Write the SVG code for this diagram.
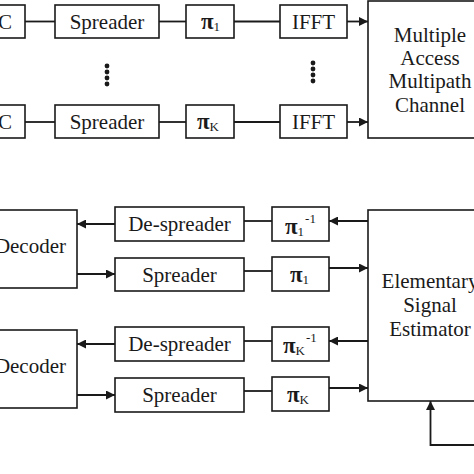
<svg xmlns="http://www.w3.org/2000/svg" width="474" height="474" viewBox="0 0 474 474">
<style>
.b{fill:#fff;stroke:#1a1a1a;stroke-width:1.6}
.l{fill:none;stroke:#1a1a1a;stroke-width:1.8}
.t{font-family:"Liberation Serif","Times New Roman",serif;font-size:21px;fill:#1a1a1a;text-anchor:middle}
.p{font-family:"Liberation Serif","Times New Roman",serif;font-size:23px;font-weight:bold;fill:#1a1a1a}
.s{font-family:"Liberation Serif","Times New Roman",serif;font-size:13px;font-weight:normal;fill:#1a1a1a}
</style>
<defs>
<marker id="a" viewBox="0 0 10 10" refX="10" refY="5" markerWidth="6" markerHeight="5" markerUnits="strokeWidth" orient="auto">
<path d="M0,0L10,5L0,10z" fill="#1a1a1a"/>
</marker>
</defs>
<rect width="474" height="474" fill="#fff"/>
<g id="connectors">
<line class="l" x1="25" y1="21.5" x2="55" y2="21.5"/>
<line class="l" x1="159" y1="21.5" x2="186" y2="21.5"/>
<line class="l" x1="234" y1="21.5" x2="280" y2="21.5"/>
<line class="l" x1="347" y1="21.5" x2="368" y2="21.5" marker-end="url(#a)"/>
<line class="l" x1="25" y1="122" x2="55" y2="122"/>
<line class="l" x1="159" y1="122" x2="186" y2="122"/>
<line class="l" x1="234" y1="122" x2="280" y2="122"/>
<line class="l" x1="347" y1="122" x2="368" y2="122" marker-end="url(#a)"/>
<line class="l" x1="115" y1="224" x2="77" y2="224" marker-end="url(#a)"/>
<line class="l" x1="244" y1="221" x2="272" y2="221"/>
<line class="l" x1="368" y1="221" x2="329" y2="221" marker-end="url(#a)"/>
<line class="l" x1="77" y1="274" x2="115" y2="274" marker-end="url(#a)"/>
<line class="l" x1="244" y1="271" x2="272" y2="271"/>
<line class="l" x1="329" y1="268" x2="368" y2="268" marker-end="url(#a)"/>
<line class="l" x1="115" y1="344" x2="77" y2="344" marker-end="url(#a)"/>
<line class="l" x1="244" y1="341" x2="272" y2="341"/>
<line class="l" x1="368" y1="341" x2="329" y2="341" marker-end="url(#a)"/>
<line class="l" x1="77" y1="395" x2="115" y2="395" marker-end="url(#a)"/>
<line class="l" x1="244" y1="391" x2="272" y2="391"/>
<line class="l" x1="329" y1="388" x2="368" y2="388" marker-end="url(#a)"/>
<polyline class="l" points="476,445 430.5,445 430.5,401" marker-end="url(#a)"/>
</g>
<g id="dots" fill="#1a1a1a">
<circle cx="107" cy="66" r="2.4"/><circle cx="107" cy="72" r="2.4"/><circle cx="107" cy="78" r="2.4"/><circle cx="107" cy="84" r="2.4"/>
<circle cx="313" cy="63" r="2.4"/><circle cx="313" cy="69" r="2.4"/><circle cx="313" cy="75" r="2.4"/><circle cx="313" cy="81" r="2.4"/>
</g>
<g id="enc1"><rect class="b" x="-4" y="5" width="29" height="33"/><text class="t" x="12" y="29" style="text-anchor:end">C</text></g>
<g id="spr1"><rect class="b" x="55" y="5" width="104" height="33"/><text class="t" x="107" y="29">Spreader</text></g>
<g id="pi1"><rect class="b" x="186" y="5" width="48" height="33"/><text class="p" x="201" y="29">π<tspan class="s" dy="2">1</tspan></text></g>
<g id="ifft1"><rect class="b" x="280" y="5" width="67" height="33"/><text class="t" x="313.5" y="29">IFFT</text></g>
<g id="enc2"><rect class="b" x="-4" y="105" width="29" height="33"/><text class="t" x="12" y="129" style="text-anchor:end">C</text></g>
<g id="spr2"><rect class="b" x="55" y="105" width="104" height="33"/><text class="t" x="107" y="129">Spreader</text></g>
<g id="piK"><rect class="b" x="186" y="105" width="48" height="33"/><text class="p" x="197" y="129">π<tspan class="s" dy="2">K</tspan></text></g>
<g id="ifft2"><rect class="b" x="280" y="105" width="67" height="33"/><text class="t" x="313.5" y="129">IFFT</text></g>
<g id="channel"><rect class="b" x="368" y="1" width="110" height="137"/>
<text class="t" x="430" y="42">Multiple</text><text class="t" x="430" y="65">Access</text><text class="t" x="430" y="88">Multipath</text><text class="t" x="430" y="112">Channel</text></g>
<g id="dec1"><rect class="b" x="-4" y="210" width="81" height="78"/><text class="t" x="66" y="253" style="text-anchor:end">Decoder</text></g>
<g id="desp1"><rect class="b" x="115" y="207" width="129" height="34"/><text class="t" x="179.5" y="231">De-spreader</text></g>
<g id="pi1inv"><rect class="b" x="272" y="207" width="57" height="34"/><text class="p" x="285" y="234">π<tspan class="s" dy="2">1</tspan><tspan class="s" dy="-13" dx="1">-1</tspan></text></g>
<g id="spr3"><rect class="b" x="115" y="258" width="129" height="33"/><text class="t" x="179.5" y="282">Spreader</text></g>
<g id="pi1b"><rect class="b" x="272" y="257" width="57" height="34"/><text class="p" x="290" y="282">π<tspan class="s" dy="2">1</tspan></text></g>
<g id="dec2"><rect class="b" x="-4" y="330" width="81" height="78"/><text class="t" x="66" y="373" style="text-anchor:end">Decoder</text></g>
<g id="desp2"><rect class="b" x="115" y="327" width="129" height="34"/><text class="t" x="179.5" y="351">De-spreader</text></g>
<g id="piKinv"><rect class="b" x="272" y="327" width="57" height="34"/><text class="p" x="283" y="353">π<tspan class="s" dy="2">K</tspan><tspan class="s" dy="-13" dx="1">-1</tspan></text></g>
<g id="spr4"><rect class="b" x="115" y="378" width="129" height="34"/><text class="t" x="179.5" y="402">Spreader</text></g>
<g id="piKb"><rect class="b" x="272" y="377" width="57" height="34"/><text class="p" x="287" y="402">π<tspan class="s" dy="2">K</tspan></text></g>
<g id="estimator"><rect class="b" x="368" y="210" width="110" height="191"/>
<text class="t" x="430" y="288">Elementary</text><text class="t" x="430" y="312">Signal</text><text class="t" x="430" y="336">Estimator</text></g>
</svg>
